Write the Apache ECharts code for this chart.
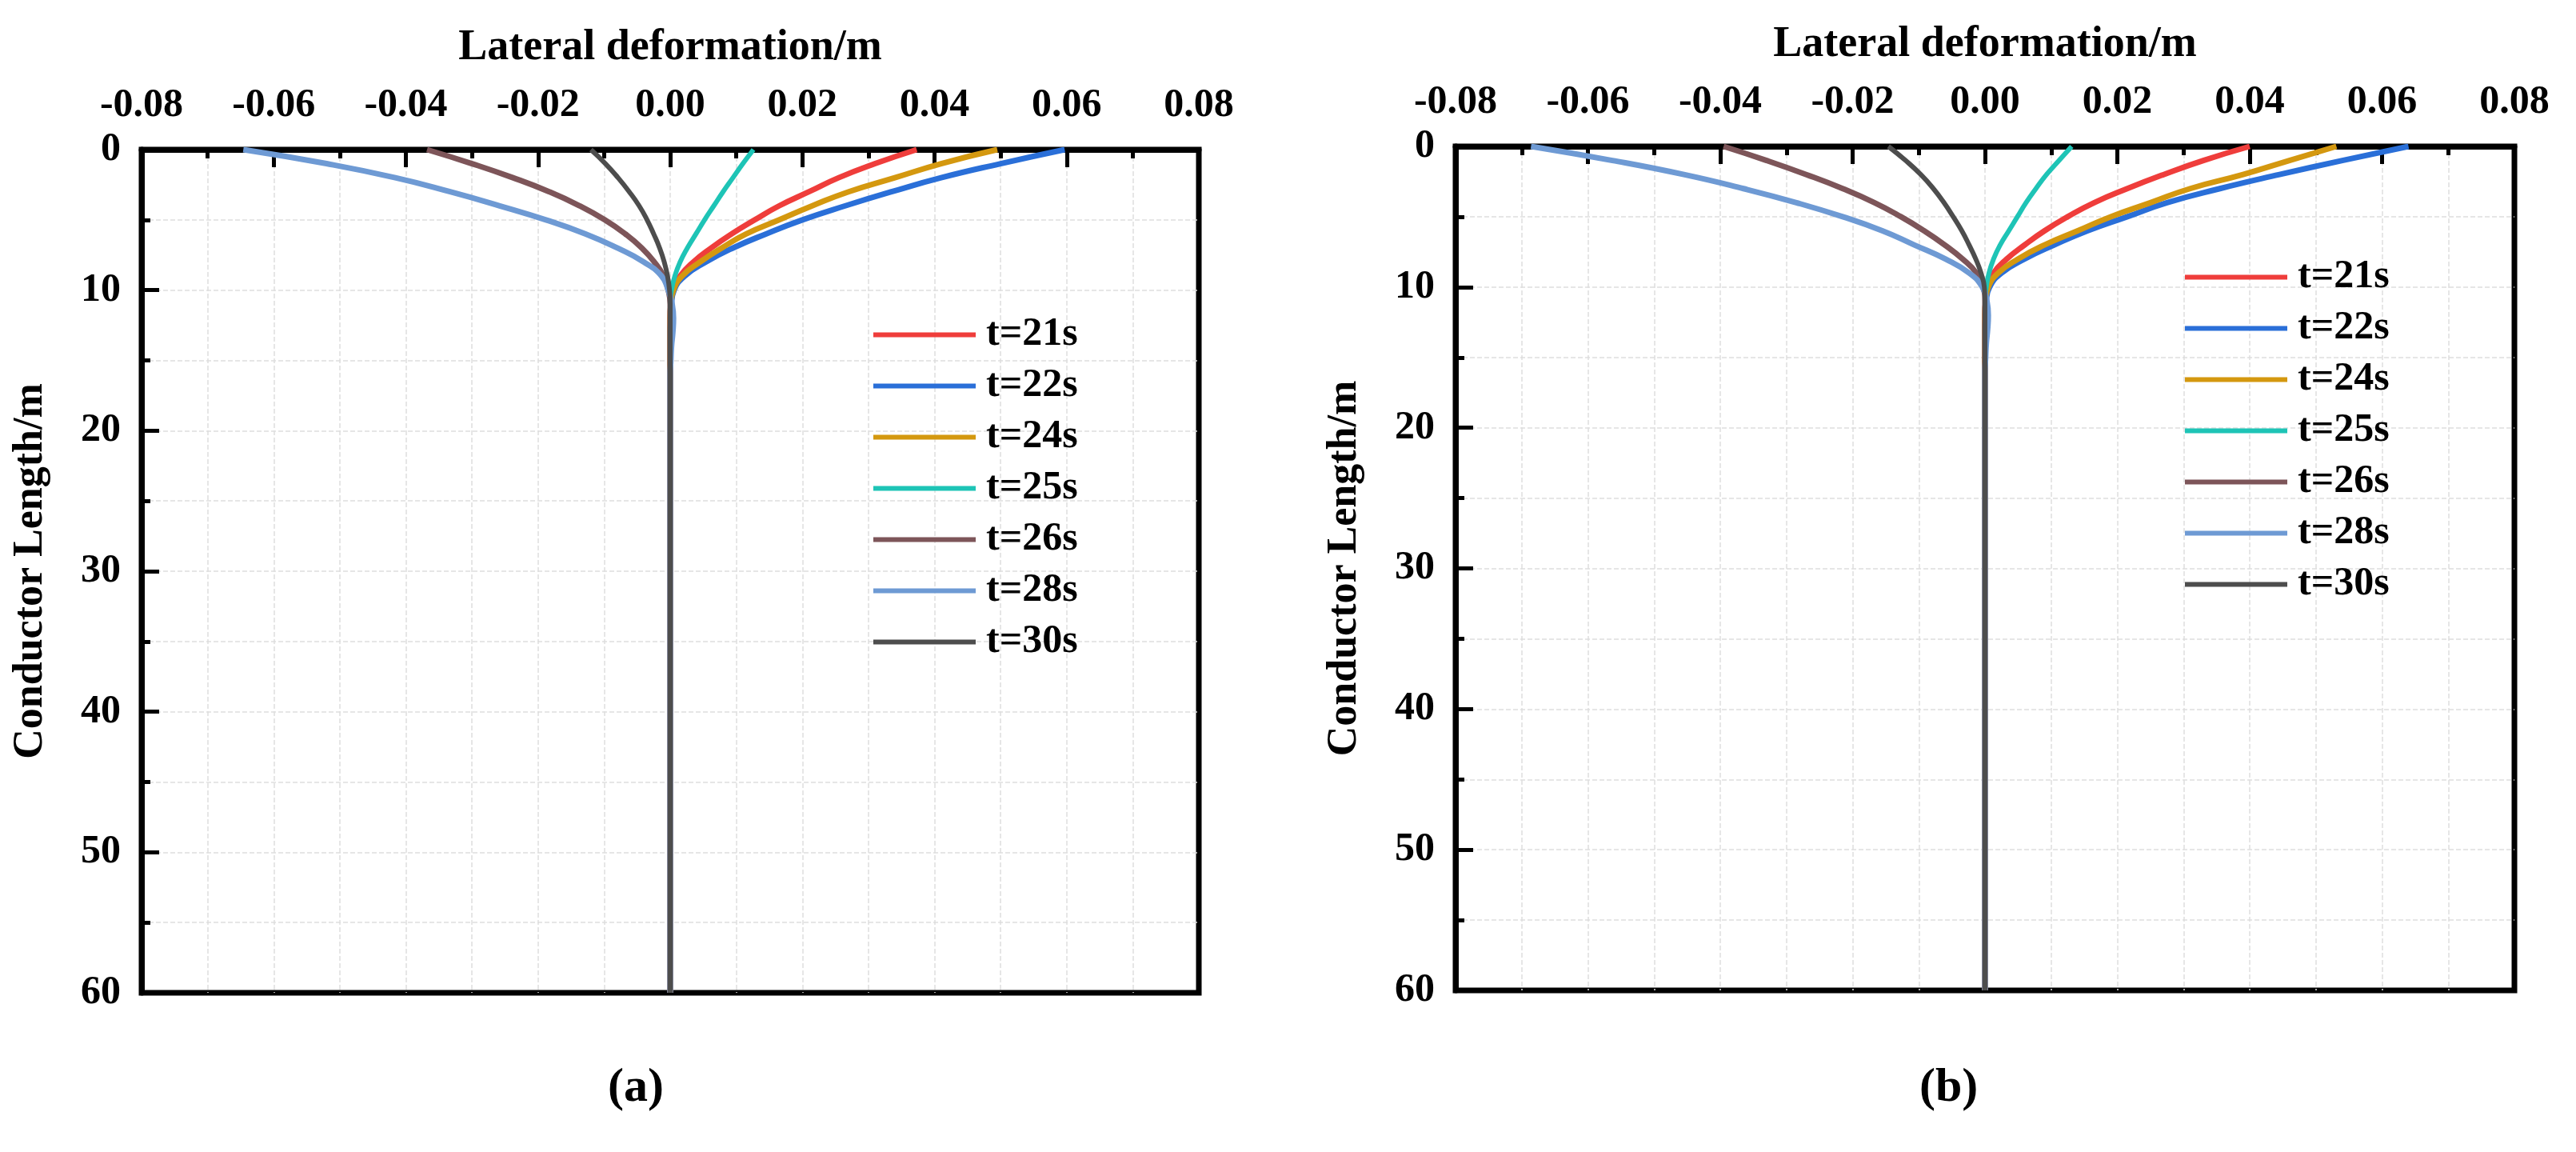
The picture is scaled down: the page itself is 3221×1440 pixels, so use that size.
<!DOCTYPE html>
<html>
<head>
<meta charset="utf-8">
<script src="https://cdn.jsdelivr.net/npm/echarts@6/dist/echarts.min.js"></script>
<style>
  html, body { margin: 0; padding: 0; background: #fff; }
  #main { width: 3221px; height: 1440px; }
</style>
</head>
<body>
<div id="main"></div>
<script>
// depth along the conductor (m)
var depth = [0, 1, 2, 3, 4, 5, 6, 7, 8, 9, 10, 11, 12, 13, 14, 15, 16, 18, 20, 30, 40, 50, 60];
var names = ['t=21s', 't=22s', 't=24s', 't=25s', 't=26s', 't=28s', 't=30s'];
var colors = ['#ef3d3b', '#2a6fd8', '#d4980f', '#1ec4b6', '#7d5559', '#6e9ad4', '#4d4d4d'];
var widths = [7, 7, 7, 6, 7, 7, 6];

// (a) lateral deformation (m)
var a21 = [0.0373, 0.031, 0.0255, 0.021, 0.0165, 0.0128, 0.0093, 0.0062, 0.0035, 0.0015, 0.0004, 0.0001, 0, 0, 0, 0, 0, 0, 0, 0, 0, 0, 0];
var a22 = [0.0597, 0.050, 0.041, 0.0335, 0.0265, 0.020, 0.0145, 0.0095, 0.0054, 0.0022, 0.0006, 0.0002, 0.0001, 0, 0, 0, 0, 0, 0, 0, 0, 0, 0];
var a24 = [0.0495, 0.041, 0.034, 0.027, 0.0215, 0.0165, 0.0115, 0.0078, 0.0045, 0.0018, 0.0005, 0.0001, 0, 0, 0, 0, 0, 0, 0, 0, 0, 0, 0];
var a25 = [0.0126, 0.011, 0.0095, 0.008, 0.0066, 0.0052, 0.0039, 0.0026, 0.0015, 0.0007, 0.0002, 0, 0, 0, 0, 0, 0, 0, 0, 0, 0, 0, 0];
var a26 = [-0.0368, -0.030, -0.0238, -0.0183, -0.0137, -0.0099, -0.0068, -0.0043, -0.0024, -0.001, -0.0003, 0, 0, 0, 0, 0, 0, 0, 0, 0, 0, 0, 0];
var a28 = [-0.0646, -0.052, -0.0416, -0.0333, -0.0258, -0.0188, -0.0128, -0.0080, -0.0040, -0.0013, -0.0003, 0.0003, 0.0005, 0.0004, 0.0002, 0.0001, 0, 0, 0, 0, 0, 0, 0];
var a30 = [-0.012, -0.0098, -0.0079, -0.0062, -0.0047, -0.0035, -0.0025, -0.0016, -0.0009, -0.0004, -0.0001, 0, 0, 0, 0, 0, 0, 0, 0, 0, 0, 0, 0];

// (b) lateral deformation (m)
var b21 = [0.040, 0.033, 0.027, 0.0215, 0.0165, 0.0125, 0.009, 0.006, 0.0033, 0.0013, 0.0004, 0.0001, 0, 0, 0, 0, 0, 0, 0, 0, 0, 0, 0];
var b22 = [0.064, 0.054, 0.0445, 0.0355, 0.0275, 0.0215, 0.0155, 0.0105, 0.006, 0.0025, 0.0007, 0.0002, 0.0001, 0, 0, 0, 0, 0, 0, 0, 0, 0, 0];
var b24 = [0.0531, 0.046, 0.039, 0.031, 0.025, 0.019, 0.014, 0.009, 0.005, 0.002, 0.0005, 0.0001, 0, 0, 0, 0, 0, 0, 0, 0, 0, 0, 0];
var b25 = [0.0131, 0.0112, 0.0093, 0.0077, 0.0062, 0.0049, 0.0036, 0.0023, 0.0013, 0.0006, 0.0002, 0, 0, 0, 0, 0, 0, 0, 0, 0, 0, 0, 0];
var b26 = [-0.0395, -0.033, -0.027, -0.0215, -0.0167, -0.0127, -0.0092, -0.0061, -0.0034, -0.0013, -0.0003, 0, 0, 0, 0, 0, 0, 0, 0, 0, 0, 0, 0];
var b28 = [-0.0686, -0.0563, -0.0455, -0.0365, -0.0285, -0.0215, -0.0155, -0.0107, -0.0060, -0.0024, -0.0004, 0.0003, 0.0005, 0.0004, 0.0002, 0.0001, 0, 0, 0, 0, 0, 0, 0];
var b30 = [-0.0146, -0.012, -0.0097, -0.0078, -0.0062, -0.0048, -0.0035, -0.0024, -0.0014, -0.0006, -0.0001, 0, 0, 0, 0, 0, 0, 0, 0, 0, 0, 0, 0];

var panelA = [a21, a22, a24, a25, a26, a28, a30];
var panelB = [b21, b22, b24, b25, b26, b28, b30];

var font = 'Liberation Serif, Times New Roman, serif';
var chart = echarts.init(document.getElementById('main'));

var gridLine = { color: '#dedede', width: 1.5, type: [6, 3] };

function xAxisFor(gi) {
  return {
    gridIndex: gi,
    type: 'value',
    position: 'top',
    min: -0.08,
    max: 0.08,
    interval: 0.02,
    name: 'Lateral deformation/m',
    nameLocation: 'middle',
    nameGap: 100,
    nameTextStyle: { fontFamily: font, fontWeight: 'bold', fontSize: 54, color: '#000' },
    axisLine: { show: true, onZero: false, lineStyle: { color: '#000', width: 7 } },
    axisTick: { show: true, inside: true, length: 22, lineStyle: { color: '#000', width: 5 } },
    minorTick: { show: true, splitNumber: 2, length: 11, lineStyle: { color: '#000', width: 5 } },
    axisLabel: {
      margin: 30, fontFamily: font, fontWeight: 'bold', fontSize: 50, color: '#000',
      formatter: function (v) { return (Math.abs(v) < 1e-9 ? 0 : v).toFixed(2); }
    },
    splitLine: { show: true, showMinLine: false, showMaxLine: false, lineStyle: gridLine },
    minorSplitLine: { show: true, lineStyle: gridLine }
  };
}

function yAxisFor(gi) {
  return {
    gridIndex: gi,
    type: 'value',
    inverse: true,
    min: 0,
    max: 60,
    interval: 10,
    name: 'Conductor Length/m',
    nameLocation: 'middle',
    nameGap: 112,
    nameTextStyle: { fontFamily: font, fontWeight: 'bold', fontSize: 52, color: '#000' },
    axisLine: { show: true, onZero: false, lineStyle: { color: '#000', width: 7 } },
    axisTick: { show: true, inside: true, length: 22, lineStyle: { color: '#000', width: 5 } },
    minorTick: { show: true, splitNumber: 2, length: 11, lineStyle: { color: '#000', width: 5 } },
    axisLabel: { margin: 26, fontFamily: font, fontWeight: 'bold', fontSize: 50, color: '#000' },
    splitLine: { show: true, showMinLine: false, showMaxLine: false, lineStyle: gridLine },
    minorSplitLine: { show: true, lineStyle: gridLine }
  };
}

function legendFor(left, top) {
  return {
    orient: 'vertical',
    left: left,
    top: top,
    data: names,
    icon: 'rect',
    itemWidth: 128,
    itemHeight: 6,
    itemGap: 13,
    selectedMode: false,
    textStyle: { fontFamily: font, fontWeight: 'bold', fontSize: 50, color: '#000', lineHeight: 51, padding: [0, 0, 0, 8] }
  };
}

var series = [];
[panelA, panelB].forEach(function (panel, gi) {
  panel.forEach(function (vals, k) {
    series.push({
      name: names[k],
      type: 'line',
      xAxisIndex: gi,
      yAxisIndex: gi,
      smooth: 0.5,
      symbol: 'none',
      color: colors[k],
      lineStyle: { color: colors[k], width: widths[k] },
      data: depth.map(function (d, i) { return [vals[i], d]; })
    });
  });
});

var option = {
  backgroundColor: '#fff',
  animation: false,
  grid: [
    { left: 177, top: 187, width: 1322, height: 1054, show: true, borderColor: '#000', borderWidth: 7 },
    { left: 1820, top: 183, width: 1324, height: 1055, show: true, borderColor: '#000', borderWidth: 7 }
  ],
  xAxis: [xAxisFor(0), xAxisFor(1)],
  yAxis: [yAxisFor(0), yAxisFor(1)],
  legend: [legendFor(1087, 388), legendFor(2727, 316)],
  graphic: [
    { type: 'text', left: 760, top: 1330, style: { text: '(a)', font: 'bold 60px ' + font, fill: '#000' } },
    { type: 'text', left: 2400, top: 1330, style: { text: '(b)', font: 'bold 60px ' + font, fill: '#000' } }
  ],
  series: series
};
chart.setOption(option);
</script>
</body>
</html>
